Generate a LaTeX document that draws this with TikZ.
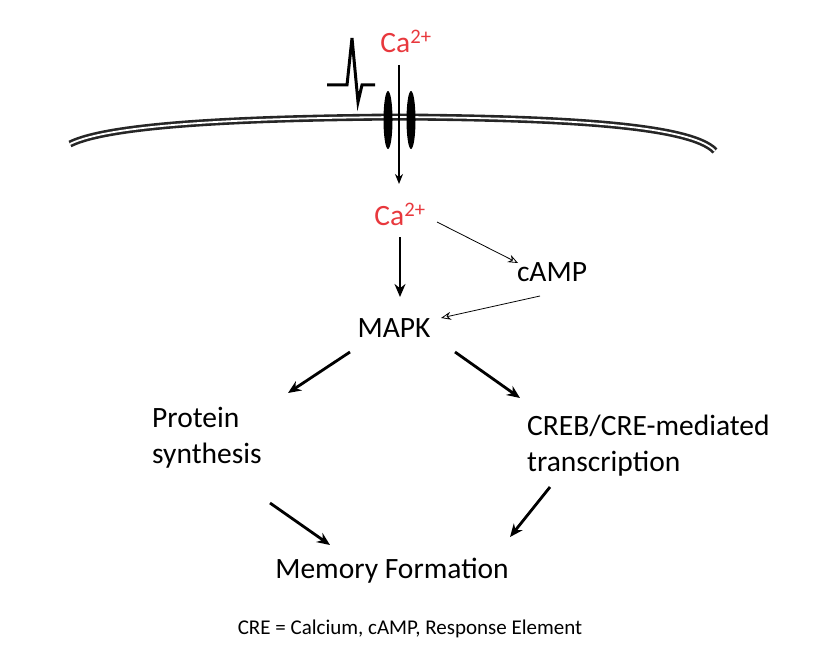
\documentclass[tikz,border=0pt]{standalone}
\usepackage{fontspec}
\setmainfont{Carlito}
\usetikzlibrary{arrows.meta}
\definecolor{ion}{HTML}{E8383D}
\tikzset{
  lab/.style={font=\fontsize{29.5}{36}\selectfont, inner sep=0pt},
  labs/.style={font=\fontsize{21}{25}\selectfont, inner sep=0pt},
  thick arr/.style={-{Stealth[length=13pt,width=11pt]}, line width=2.8pt},
  thin arr/.style={-{Stealth[length=10pt,width=8pt,open]}, line width=0.8pt},
}
\begin{document}
\begin{tikzpicture}[x=1pt,y=-1pt]
  \useasboundingbox (0,0) rectangle (840,666);
  % membrane
  \draw[line width=7pt, black!85, line cap=butt] (70,144) .. controls (110,124) and (250,118) .. (400,117) .. controls (550,118) and (690,124) .. (715,151);
  \draw[line width=1.8pt, white, line cap=butt] (70,144) .. controls (110,124) and (250,118) .. (400,117) .. controls (550,118) and (690,124) .. (715,151);
  % channel
  \fill (388,120) ellipse (4.5pt and 29pt);
  \fill (411,120) ellipse (4.5pt and 29pt);
  % action potential
  \draw[line width=3pt, line join=miter] (327,85) -- (347,85) -- (352,38) -- (358,102) -- (362,85) -- (375,85);
  % nodes
  \node[lab, text=ion] (ca1) at (406,41) {Ca\textsuperscript{2+}};
  \coordinate (in) at (399,65);
  \coordinate (out) at (399,184);
  \node[lab, text=ion] (ca2) at (400,214) {Ca\textsuperscript{2+}};
  \node[lab] (camp) at (552,272) {cAMP};
  \node[lab] (mapk) at (394,328) {MAPK};
  \node[lab, align=left, anchor=west] (prot) at (152,438) {Protein\\synthesis};
  \node[lab, align=left, anchor=west] (creb) at (527,446) {CREB/CRE-mediated\\transcription};
  \node[lab] (mem) at (392,571) {Memory Formation};
  \node[labs] (note) at (410,629) {CRE = Calcium, cAMP, Response Element};
  \coordinate (p1) at (270,503);
  \coordinate (c1) at (550,487);
  % connectors
  \draw[-{Stealth[length=10pt,width=8pt]}, line width=1.8pt] (in) -- (out);
  \draw[thick arr] (400,237) -- (400,297);
  \draw[thin arr] (437,222) -- (518,263);
  \draw[thin arr] (540,296) -- (441,318);
  \draw[thick arr] (350,352) -- (288,393);
  \draw[thick arr] (455,352) -- (520,398);
  \draw[thick arr] (p1) -- (330,545);
  \draw[thick arr] (c1) -- (510,537);
\end{tikzpicture}
\end{document}
